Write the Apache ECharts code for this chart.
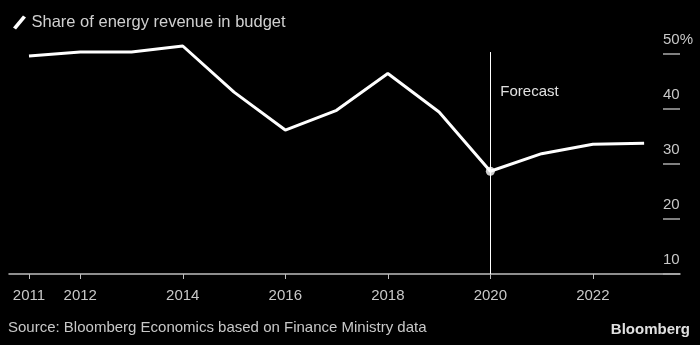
<!DOCTYPE html>
<html><head><meta charset="utf-8">
<script src="https://cdn.jsdelivr.net/npm/echarts@6/dist/echarts.min.js"></script>
<style>html,body{margin:0;padding:0;background:#000}#c{width:700px;height:345px}</style>
</head><body><div id="c"></div>
<script>
const years = [2011,2012,2013,2014,2015,2016,2017,2018,2019,2020,2021,2022,2023];
const share = [49.7,50.4,50.4,51.5,43.1,36.2,39.8,46.5,39.5,28.7,31.9,33.6,33.8];
const xTickYears = [2011,2012,2014,2016,2018,2020,2022];
const yTicks = [10,20,30,40,50];
const forecastYear = 2020;
const forecastValue = 28.7;
const seriesName = 'Share of energy revenue in budget';
const sourceText = 'Source: Bloomberg Economics based on Finance Ministry data';

const font = '"Liberation Sans", Arial, sans-serif';
const chart = echarts.init(document.getElementById('c'));
chart.setOption({
  backgroundColor: '#000',
  animation: false,
  textStyle: {fontFamily: font},
  legend: {
    left: 8, top: 9, itemWidth: 14, itemHeight: 14, itemGap: 6,
    icon: 'path://M0,12 L10,0 L13,2 L3,14 Z',
    textStyle: {color: '#d0d0d0', fontSize: 16.5, fontFamily: font},
    data: [{name: seriesName, itemStyle: {color: '#fff'}}]
  },
  title: {
    text: sourceText, left: 3, top: 315,
    textStyle: {color: '#c8c8c8', fontSize: 15, fontWeight: 'normal', fontFamily: font}
  },
  graphic: [{
    type: 'text', right: 10, top: 322,
    style: {text: 'Bloomberg', fill: '#e0e0e0', font: 'bold 15px "Liberation Sans", Arial, sans-serif'}
  }],
  grid: {left: 9, right: 20, top: 46, bottom: 71},
  xAxis: {
    type: 'value', min: 2010.61, max: 2023.70,
    axisLine: {show: true, lineStyle: {color: '#bdbdbd', width: 1.5}},
    axisTick: {show: true, customValues: xTickYears, length: 5, lineStyle: {color: '#bdbdbd'}},
    axisLabel: {customValues: xTickYears, color: '#c8c8c8', fontSize: 15, margin: 14, formatter: v => String(v)},
    splitLine: {show: false}
  },
  yAxis: {
    type: 'value', position: 'right', min: 10, max: 51.5,
    axisLine: {show: false},
    axisTick: {show: true, inside: true, length: 17, customValues: yTicks, lineStyle: {color: '#aaa', width: 1.5}},
    axisLabel: {
      customValues: yTicks,
      inside: true, margin: 17, align: 'left', verticalAlign: 'bottom',
      padding: [0,0,7,0], color: '#c8c8c8', fontSize: 15,
      formatter: v => v === 50 ? '50%' : String(v)
    },
    splitLine: {show: false}
  },
  series: [{
    name: seriesName, type: 'line', symbol: 'none', clip: false,
    data: years.map((y, i) => [y, share[i]]),
    lineStyle: {color: '#fff', width: 3},
    itemStyle: {color: '#fff'},
    z: 3,
    markLine: {
      silent: true, symbol: 'none',
      lineStyle: {color: '#fff', width: 1, type: 'solid'},
      label: {show: false},
      data: [[{coord: [forecastYear, 50.4]}, {coord: [forecastYear, 10]}]]
    },
    markPoint: {
      silent: true, symbol: 'circle', symbolSize: 0,
      label: {show: true, position: 'right', distance: 10, color: '#e0e0e0', fontSize: 15, formatter: 'Forecast'},
      data: [{coord: [forecastYear, 43.1]}]
    }
  }, {
    name: 'forecastStart', type: 'scatter', symbol: 'circle', symbolSize: 9,
    data: [[forecastYear, forecastValue]], itemStyle: {color: '#fff'}, z: 4
  }]
});
</script></body></html>
